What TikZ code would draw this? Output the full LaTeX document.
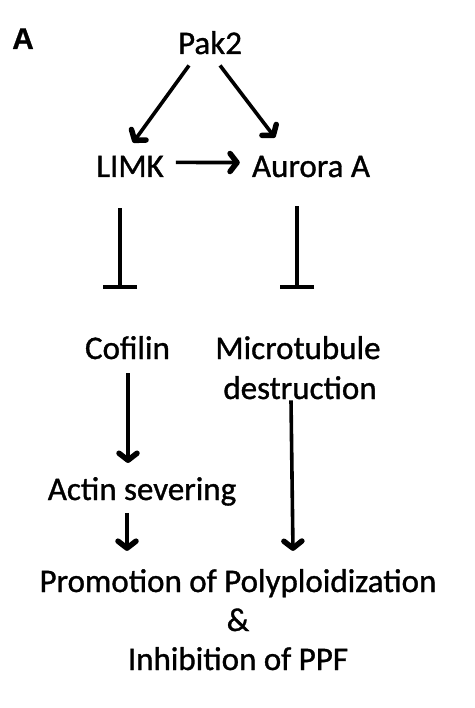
\documentclass[tikz,border=0pt]{standalone}
\usepackage{fontspec}
\setmainfont{Carlito}[BoldFont=Carlito,BoldFeatures={FakeBold=1.0}]
\newfontfamily\labelfont{Liberation Sans}[BoldFeatures={FakeBold=0.6}]
\usetikzlibrary{arrows.meta}
\begin{document}
\begin{tikzpicture}[x=1pt,y=-1pt,
  lbl/.style={anchor=base,inner sep=0pt,font=\fontsize{33}{40}\selectfont\bfseries},
  arr/.style={line width=3.6pt,-{Straight Barb[length=7pt,width=18pt,line width=5.5pt,round]}},
  inh/.style={line width=3.6pt,-{Bar[width=34pt]}}]
\useasboundingbox (0,0) rectangle (474,708);
\node[anchor=base,inner sep=0pt,font=\labelfont\bfseries] (lA) at (23,49) {\scalebox{3}{A}};
\node[lbl] (pak) at (210,54) {Pak2};
\node[lbl] (limk) at (130,177) {LIMK};
\node[lbl] (aur) at (311,177) {Aurora A};
\node[lbl] (cof) at (127.5,359) {Cofilin};
\node[lbl] (mic) at (298,359) {Microtubule};
\node[lbl] (des) at (300,399) {destruction};
\node[lbl] (act) at (142,500) {Actin severing};
\node[lbl] (pro) at (238,592) {Promotion of Polyploidization};
\node[lbl] (amp) at (238,631) {\&};
\node[lbl] (inhb) at (238,670) {Inhibition of PPF};
% arrows
\draw[arr] ([xshift=-21pt,yshift=-11pt]pak.south) -- ([xshift=3pt,yshift=13pt]limk.north);
\draw[arr] ([xshift=10pt,yshift=-11pt]pak.south) -- ([xshift=-36pt,yshift=18pt]aur.north);
\draw[arr] ([xshift=12pt,yshift=4pt]limk.east) -- ([xshift=-12pt,yshift=4pt]aur.west);
\draw[inh] ([xshift=-10pt,yshift=-31pt]limk.south) -- ([xshift=-7.5pt,yshift=47pt]cof.north);
\draw[inh] ([xshift=-14pt,yshift=-29pt]aur.south) -- ([xshift=-1pt,yshift=47pt]mic.north);
\draw[arr] ([xshift=0.5pt,yshift=-14pt]cof.south) -- ([xshift=-14pt,yshift=14pt]act.north);
\draw[arr] ([xshift=-15pt,yshift=-7pt]act.south) -- ([xshift=-111pt,yshift=18pt]pro.north);
\draw[arr] ([xshift=-9pt,yshift=-1pt]des.south) -- ([xshift=55pt,yshift=18pt]pro.north);
\end{tikzpicture}
\end{document}
